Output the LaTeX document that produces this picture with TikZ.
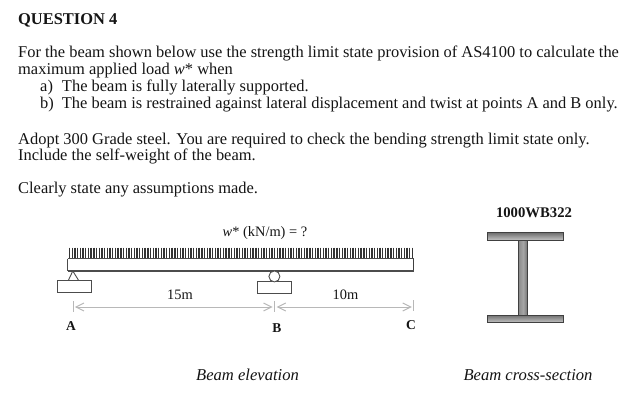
\documentclass[tikz,border=0pt]{standalone}
\usepackage{fontspec}
\setmainfont{Liberation Serif}
\usetikzlibrary{arrows.meta}
\definecolor{ink}{gray}{0.08}
\definecolor{lineg}{gray}{0.3}
\definecolor{dimg}{gray}{0.72}
\tikzset{
  x=1pt,y=-1pt,
  para/.style={anchor=base west,inner sep=0pt,text=ink,font=\fontsize{16.45}{17}\selectfont},
  lab/.style={inner sep=0pt,text=ink,font=\fontsize{14.4}{16}\selectfont},
  letter/.style={inner sep=0pt,text=ink,font=\fontsize{13.5}{15}\selectfont\bfseries},
  secttl/.style={inner sep=0pt,text=ink,font=\fontsize{14.7}{16}\selectfont\bfseries},
  captext/.style={inner sep=0pt,text=ink,font=\fontsize{16.6}{18}\selectfont\itshape},
  support/.style={draw=lineg,line width=0.9pt,fill=white,minimum width=34pt,minimum height=11.5pt,inner sep=0pt},
  dimline/.style={draw=dimg,line width=1pt,{Straight Barb[length=8pt,width=8pt]}-{Straight Barb[length=8pt,width=8pt]}},
  dimtick/.style={draw=dimg,line width=1pt},
  flange/.style={draw=black!75,line width=0.8pt,top color=gray!110,bottom color=gray!45,minimum width=76pt,minimum height=7.5pt,inner sep=0pt},
  webplate/.style={draw=black!75,line width=1pt,left color=gray!90,right color=gray!110,middle color=gray!70,minimum width=8.5pt,minimum height=76pt,inner sep=0pt}
}
\begin{document}
\begin{tikzpicture}
\useasboundingbox (0,0) rectangle (633,410);
\node[para,font=\fontsize{16.45}{17}\selectfont\bfseries] (q) at (18,24) {QUESTION 4};
\node[para] (l1) at (18,57) {For the beam shown below use the strength limit state provision of AS4100 to calculate the};
\node[para] (l2) at (18,74) {maximum applied load \textit{w}* when};
\node[para] (l3) at (40,91) {a)\hspace{9pt}The beam is fully laterally supported.};
\node[para] (l4) at (40,108) {b)\hspace{8pt}The beam is restrained against lateral displacement and twist at points A and B only.};
\node[para] (l5) at (18,144) {Adopt 300 Grade steel. You are required to check the bending strength limit state only.};
\node[para] (l6) at (18,160) {Include the self-weight of the beam.};
\node[para] (l7) at (18,193) {Clearly state any assumptions made.};
% load
\node[lab] (w) at (265,233) {\textit{w}* (kN/m) = ?};
\foreach \i in {0,...,127}{\draw[black!80,line width=1.4pt] ({69.5+\i*2.7},247.5) -- ({69.5+\i*2.7},259);}
% beam
\node[draw=none,inner sep=0pt,minimum width=345.5pt,minimum height=12pt] (beam) at (240.75,265) {};
\draw[lineg,line width=0.7pt] (beam.north west) -- (beam.north east);
\draw[lineg,line width=1pt] (beam.north west) -- (beam.south west);
\draw[black!75,line width=1pt] (beam.north east) -- (beam.south east);
\draw[lineg,line width=1.5pt] (beam.south west) -- (beam.south east);
% supports
\node[support] (sa) at (74,286.6) {};
\node[support] (sb) at (274.7,287.5) {};
\coordinate (apex) at (72.8,271);
\draw[lineg,line width=0.9pt] (68.2,280.7) -- (apex) -- (78.8,280.7);
\node[draw=lineg,line width=0.9pt,fill=white,circle,minimum size=11pt,inner sep=0pt] (roller) at (274.4,276.4) {};
% dimensions
\coordinate (ta) at (73.3,307); \coordinate (tb) at (274.7,307); \coordinate (tc) at (413.3,307);
\draw[dimtick] (73.3,301) -- (73.3,312);
\draw[dimtick] (274.7,301) -- (274.7,312);
\draw[dimtick] (413.3,300) -- (413.3,311);
\draw[dimline] ([xshift=1.5pt]ta) -- ([xshift=-2pt]tb);
\draw[dimline] ([xshift=2pt]tb) -- ([xshift=-1.5pt]tc);
\node[lab] (d1) at (180,295) {15m};
\node[lab] (d2) at (345.5,295) {10m};
\node[letter] (A) at (71,326) {A};
\node[letter] (B) at (277,328) {B};
\node[letter] (C) at (411,325) {C};
\node[captext] (c1) at (247.5,375) {Beam elevation};
% section
\node[secttl] (sec) at (534,213) {1000WB322};
\node[webplate] (web) at (523.2,278) {};
\node[flange] (top) at (525,236.6) {};
\node[flange] (bot) at (525,319) {};
\node[captext] (c2) at (528,375) {Beam cross-section};
\end{tikzpicture}
\end{document}
